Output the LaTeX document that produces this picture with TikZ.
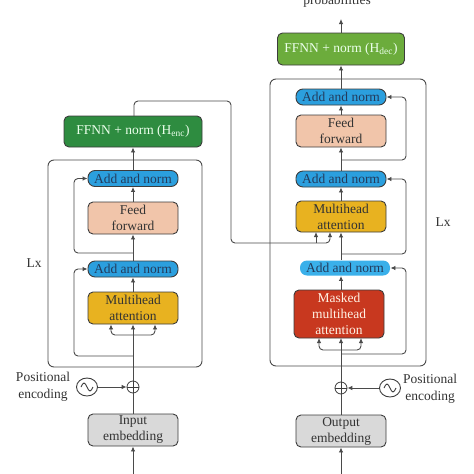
\documentclass[tikz,border=0pt]{standalone}
\usepackage{fontspec}
\setmainfont{Liberation Serif}
\usetikzlibrary{arrows.meta,shapes.geometric}
\definecolor{lin}{HTML}{4A4A4A}
\definecolor{bord}{HTML}{3C3C3C}
\definecolor{encg}{HTML}{2E8C40}
\definecolor{decg}{HTML}{6CAC3C}
\definecolor{anb}{HTML}{2B9FDE}
\definecolor{anl}{HTML}{3AB0EA}
\definecolor{ffc}{HTML}{F1C5AA}
\definecolor{mhc}{HTML}{E8B220}
\definecolor{mmc}{HTML}{C8381F}
\definecolor{embc}{HTML}{D9D9D9}
\definecolor{navy}{HTML}{233B5C}
\definecolor{txt}{HTML}{333333}
\tikzset{
  blk/.style={draw=bord, line width=0.9pt, rounded corners=5pt, minimum width=90pt, align=center, inner sep=0pt, font=\fontsize{13.5}{16}\selectfont, text=txt},
  anbox/.style={blk, fill=anb, rounded corners=7pt, minimum height=16pt, text=navy},
  ffbox/.style={blk, fill=ffc, minimum height=32pt},
  mhbox/.style={blk, fill=mhc, minimum height=32pt},
  embbox/.style={blk, fill=embc, minimum height=32pt},
  ffnbox/.style={blk, minimum height=31pt, text=white!92!green},
  outer/.style={draw=lin, line width=0.9pt, rounded corners=6pt},
  conn/.style={draw=lin, line width=0.9pt, rounded corners=4pt},
  arr/.style={conn, -{Latex[length=5pt,width=4.5pt]}},
  lbl/.style={font=\fontsize{13.5}{17}\selectfont, text=txt, align=center, inner sep=0pt}
}
\begin{document}
\begin{tikzpicture}[x=1pt,y=-1pt]
\useasboundingbox (0,0) rectangle (474,474);
% outer boxes
\draw[outer] (48,160) rectangle (202,367);
\draw[outer] (270,79) rectangle (426,366);
% ---------------- encoder ----------------
\node[ffnbox, fill=encg, minimum width=138pt] (fenc) at (133,131.5) {FFNN + norm (H\textsubscript{enc})};
\node[anbox] (ean2) at (133,178.5) {Add and norm};
\node[ffbox] (eff) at (133,218) {Feed\\forward};
\node[anbox] (ean1) at (133,269) {Add and norm};
\node[mhbox] (emh) at (133,308) {Multihead\\attention};
\node[embbox] (eemb) at (133,430) {Input\\embedding};
\node[circle, draw=bord, line width=0.8pt, minimum size=12pt, inner sep=0pt] (eplus) at (133,387) {};
\draw[bord, line width=0.8pt] (eplus.north) -- (eplus.south) (eplus.west) -- (eplus.east);
\node[ellipse, draw=bord, line width=0.9pt, minimum width=21pt, minimum height=18pt, inner sep=0pt] (esin) at (87,387) {};
\draw[bord, line width=0.9pt] (81,387) sin (84,383) cos (87,387) sin (90,391) cos (93,387);
\node[lbl] (epos) at (43,387) {Positional\\encoding};
\node[lbl] (elx) at (34,263) {Lx};
\coordinate (ein) at (133,474);
\coordinate (eb1) at (133,356);
\coordinate (eb2) at (133,253);
\coordinate (emhin) at (133,335);
\coordinate (etop) at (134,116);
% encoder connectors
\draw[arr] (ein) -- (eemb.south);
\draw[conn] (eemb.north) -- (eplus.south);
\draw[arr] (esin.east) -- (eplus.west);
\draw[arr] (eplus.north) -- (emh.south);
\draw[arr] (emhin) -| ([xshift=-22pt]emh.south);
\draw[arr] (emhin) -| ([xshift=22pt]emh.south);
\draw[arr] (emh.north) -- (ean1.south);
\draw[arr] (ean1.north) -- (eff.south);
\draw[arr] (eff.north) -- (ean2.south);
\draw[arr] (ean2.north) -- (fenc.south);
\draw[arr] (eb1) -| (74,269) -- (ean1.west);
\draw[arr] (eb2) -| (74,178.5) -- (ean2.west);
% ---------------- decoder ----------------
\node[ffnbox, fill=decg, minimum width=127pt, minimum height=32pt] (fdec) at (341,49) {FFNN + norm (H\textsubscript{dec})};
\node[anbox] (dan3) at (341,97) {Add and norm};
\node[ffbox] (dff) at (341,131) {Feed\\forward};
\node[anbox] (dan2) at (341,179) {Add and norm};
\node[mhbox, minimum height=31pt] (dmh) at (341,216.5) {Multihead\\attention};
\node[anbox, fill=anl, draw=none, minimum height=15pt] (dan1) at (345,268) {Add and norm};
\node[blk, fill=mmc, minimum height=48pt, text=white!90!orange] (dmm) at (339,314) {Masked\\multihead\\attention};
\node[embbox] (demb) at (341,431) {Output\\embedding};
\node[circle, draw=bord, line width=0.8pt, minimum size=12pt, inner sep=0pt] (dplus) at (341,388) {};
\draw[bord, line width=0.8pt] (dplus.north) -- (dplus.south) (dplus.west) -- (dplus.east);
\node[ellipse, draw=bord, line width=0.9pt, minimum width=21pt, minimum height=18pt, inner sep=0pt] (dsin) at (390,388) {};
\draw[bord, line width=0.9pt] (384,388) sin (387,384) cos (390,388) sin (393,392) cos (396,388);
\node[lbl] (dpos) at (430,389) {Positional\\encoding};
\node[lbl] (dlx) at (443,222) {Lx};
\node[lbl, anchor=base] (prob) at (337,4) {probabilities};
\coordinate (din) at (341,474);
\coordinate (dout) at (341,19);
\coordinate (dmmin) at (341,350);
\coordinate (db1) at (341,354);
\coordinate (db2) at (341,254);
\coordinate (db3) at (341,160);
\coordinate (x1) at (341,338);
% decoder connectors
\draw[arr] (din) -- (demb.south);
\draw[conn] (demb.north) -- (dplus.south);
\draw[arr] (dsin.west) -- (dplus.east);
\draw[arr] (dplus.north) -- (x1);
\draw[arr] (dmmin) -| (319,338);
\draw[arr] (dmmin) -| (361,338);
\draw[arr] (dmm.north -| x1) -- (dan1.south -| x1);
\draw[arr] (dan1.north -| x1) -- (dmh.south -| x1);
\draw[arr] (dmh.north) -- (dan2.south);
\draw[arr] (dan2.north) -- (dff.south);
\draw[arr] (dff.north) -- (dan3.south);
\draw[arr] (dan3.north) -- (fdec.south);
\draw[arr] (fdec.north -| dout) -- (dout);
\draw[arr] (db1) -| (406,268) -- (dan1.east);
\draw[arr] (db2) -| (406,179) -- (dan2.east);
\draw[arr] (db3) -| (406,97) -- (dan3.east);
% encoder -> decoder
\coordinate (ed) at (316,243);
\draw[arr] (etop) |- (231,101) |- (330,243) -- (330,232);
\draw[arr] (ed) -- (316,232);
\end{tikzpicture}
\end{document}
